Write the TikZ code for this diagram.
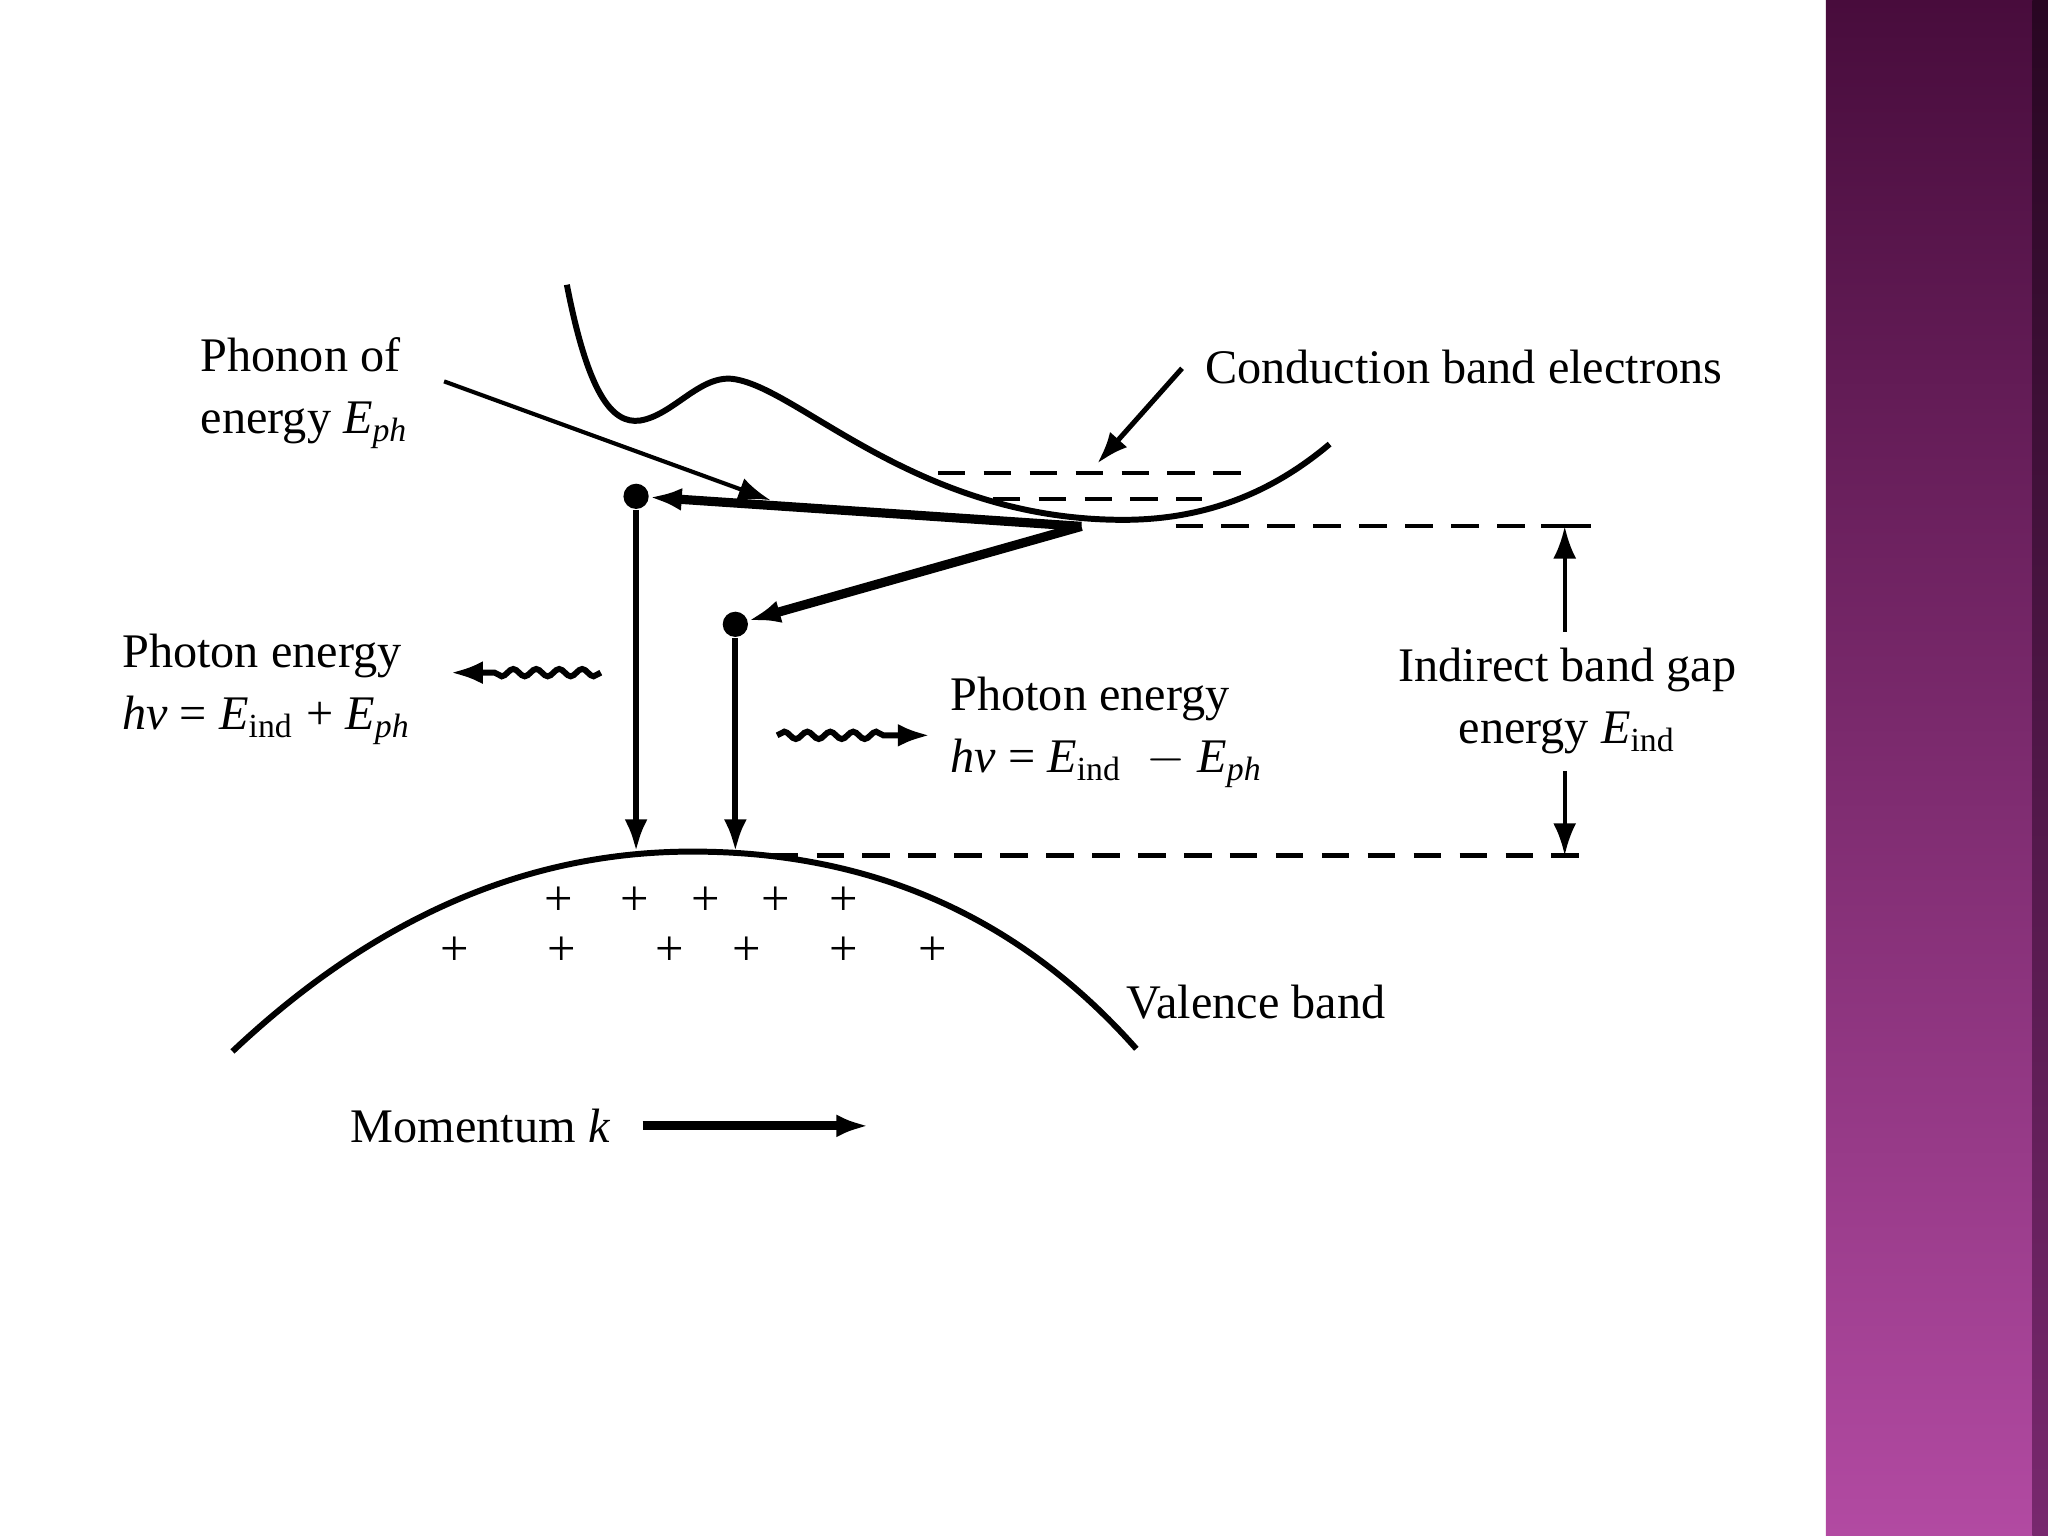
\documentclass[tikz,border=0pt]{standalone}
\usepackage{fontspec}
\setmainfont{Liberation Serif}
\usetikzlibrary{arrows.meta,decorations.pathmorphing}
\newcommand{\sub}[1]{\textsubscript{#1}}
\tikzset{
  lbl/.style={font=\fontsize{10.5}{13.5}\selectfont, inner sep=0pt, align=left},
  thin/.style={line width=0.9pt},
  thick2/.style={line width=2pt},
  dash2/.style={line width=0.9pt, dash pattern=on 6pt off 4pt},
  arr/.style={-{Latex[length=7pt,width=5pt]}},
  wave/.style={line width=1.3pt, decorate, decoration={snake, amplitude=0.8pt, segment length=5pt, post length=8pt}},
}
\begin{document}
\begin{tikzpicture}[x=0.01cm,y=-0.01cm]
\useasboundingbox (0,0) rectangle (1568,1176);
\fill[white] (0,0) rectangle (1568,1176);
\shade[top color={rgb,255:red,72;green,12;blue,60}, bottom color={rgb,255:red,178;green,74;blue,162}] (1398,0) rectangle (1568,1176);
\shade[top color={rgb,255:red,40;green,6;blue,34}, bottom color={rgb,255:red,120;green,40;blue,110}] (1556,0) rectangle (1568,1176);

% bands
\draw[line width=1.3pt] (434,218) .. controls (450,300) and (468,325) .. (490,322) .. controls (515,318) and (535,288) .. (560,290) .. controls (610,295) and (700,398) .. (860,398) .. controls (930,398) and (980,372) .. (1018,340);
\draw[line width=1.3pt] (178,805) .. controls (300,690) and (420,652) .. (530,652) .. controls (650,652) and (770,690) .. (870,803);
\draw[dash2] (718,362) -- (950,362);
\draw[dash2] (760,382) -- (920,382);
\draw[dash2] (900,403) -- (1180,403);
\draw[thin] (1180,403) -- (1218,403);
\draw[dash2] (590,655) -- (1222,655);

\coordinate (src) at (828,403);
\node[circle, fill=black, inner sep=0pt, minimum size=5.5pt] (e1) at (487,380) {};
\node[circle, fill=black, inner sep=0pt, minimum size=5.5pt] (e2) at (563,478) {};
\coordinate (v1) at (487,652);
\coordinate (v2) at (563,652);
\draw[thick2, arr] (src) -- (e1);
\draw[thick2, arr] (src) -- (e2);
\draw[line width=1.3pt, arr] (e1) -- (v1);
\draw[line width=1.3pt, arr] (e2) -- (v2);

\foreach \x in {428,486,540,594,646} \node[font=\fontsize{11}{12}\selectfont] at (\x,690) {+};
\foreach \x in {348,430,513,572,646,714} \node[font=\fontsize{11}{12}\selectfont] at (\x,728) {+};

\node[lbl, anchor=north west] (phonon) at (153,258) {Phonon of\\energy \textit{E}\sub{\textit{ph}}};
\coordinate (ph0) at (340,292);
\coordinate (ph1) at (590,383);
\draw[thin, arr] (ph0) -- (ph1);

\node[lbl, anchor=west] (cbe) at (922,281) {Conduction band electrons};
\coordinate (cb0) at (905,282);
\coordinate (cb1) at (840,355);
\draw[line width=1.1pt, arr] (cb0) -- (cb1);

\node[lbl, anchor=north west] (pl) at (93,485) {Photon energy\\\textit{hν} = \textit{E}\sub{ind} + \textit{E}\sub{\textit{ph}}};
\coordinate (w0) at (460,515);
\coordinate (w1) at (345,515);
\draw[wave, arr] (w0) -- (w1);

\node[lbl, anchor=north west] (pr) at (727,518) {Photon energy\\\textit{hν} = \textit{E}\sub{ind} \ $-$ \textit{E}\sub{\textit{ph}}};
\coordinate (w2) at (595,563);
\coordinate (w3) at (712,563);
\draw[wave, arr] (w2) -- (w3);

\node[lbl, align=center] (gap) at (1200,537) {Indirect band gap\\energy \textit{E}\sub{ind}};
\coordinate (g0) at (1198,403);
\coordinate (g1) at (1198,655);
\draw[thin, arr] (gap.north -| g0) ++(0,-12) -- (g0);
\draw[thin, arr] (gap.south -| g0) ++(0,12) -- (g1);

\node[lbl, anchor=west] (vb) at (862,767) {Valence band};
\node[lbl, anchor=west] (mom) at (268,862) {Momentum \textit{k}};
\coordinate (m0) at (492,862);
\coordinate (m1) at (665,862);
\draw[thick2, arr] (m0) -- (m1);
\end{tikzpicture}
\end{document}
